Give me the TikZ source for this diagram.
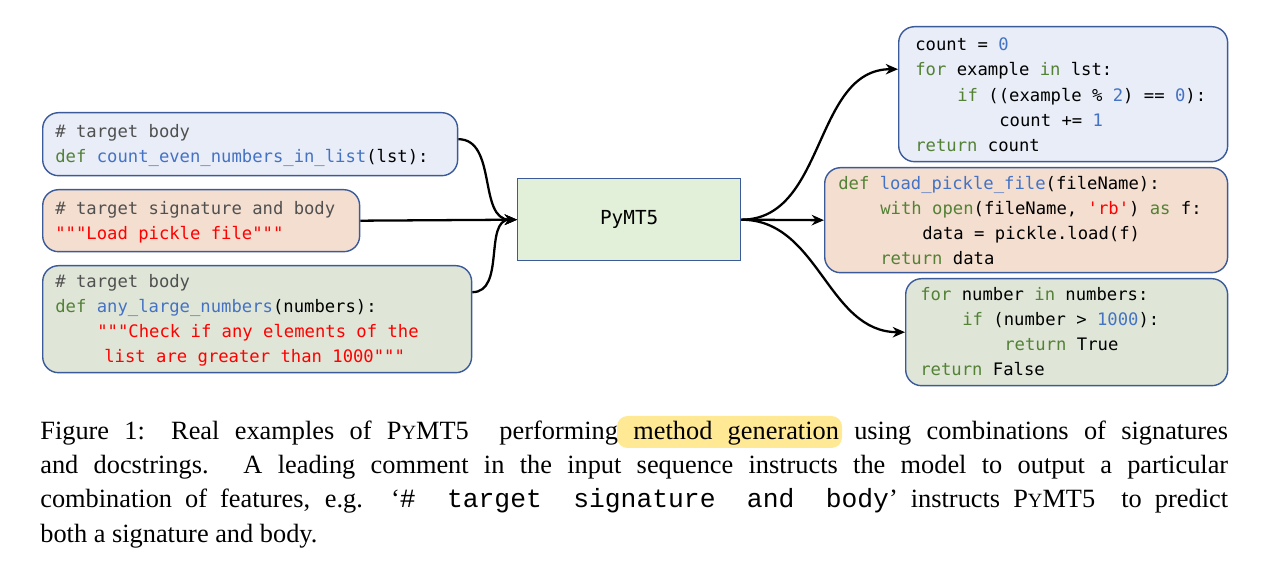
\documentclass[tikz,border=0pt]{standalone}
\usepackage{fontspec}
\usetikzlibrary{arrows.meta}
\setmainfont{Liberation Serif}
\newfontfamily\cmono{DejaVu Sans Mono}
\newfontfamily\ccour{Liberation Mono}
\definecolor{ckwc}{HTML}{538135}
\definecolor{cfnc}{HTML}{4472C4}
\definecolor{cstc}{HTML}{FF0000}
\definecolor{ccmc}{HTML}{505050}
\definecolor{bord}{HTML}{3B5A9A}
\definecolor{fblue}{HTML}{E8EDF7}
\definecolor{forange}{HTML}{F4DECF}
\definecolor{fgreen}{HTML}{DFE6D7}
\definecolor{fpym}{HTML}{E2EFD9}
\definecolor{hl}{HTML}{FFE994}
\newcommand\ckw[1]{\textcolor{ckwc}{#1}}
\newcommand\cfn[1]{\textcolor{cfnc}{#1}}
\newcommand\cst[1]{\textcolor{cstc}{#1}}
\newcommand\ccm[1]{\textcolor{ccmc}{#1}}
\newcommand\pym{P{\fontsize{11.5}{12}\selectfont Y}MT5}
\newlength\capw
\setlength\capw{23.76cm}
\begin{document}
\begin{tikzpicture}[x=0.02cm,y=-0.02cm,
  box/.style={draw=bord,line width=0.8pt,rounded corners=9pt},
  code/.style={anchor=base west,inner sep=0pt,font=\cmono\fontsize{9.8}{12}\selectfont},
  captxt/.style={anchor=base west,inner sep=0pt,font=\fontsize{15}{18}\selectfont},
  arr/.style={-{Stealth[length=7pt,width=6pt]},line width=1.3pt}]
\useasboundingbox (0,0) rectangle (1278,563);
% boxes
\node[box,fill=fblue,minimum width=8.3cm,minimum height=1.26cm,anchor=north west] (A) at (42,112) {};
\node[box,fill=forange,minimum width=6.34cm,minimum height=1.24cm,anchor=north west] (B) at (42,189) {};
\node[box,fill=fgreen,minimum width=8.58cm,minimum height=2.14cm,anchor=north west] (C) at (42,265) {};
\node[draw=bord,line width=0.8pt,fill=fpym,minimum width=4.46cm,minimum height=1.64cm,anchor=north west,font=\cmono\fontsize{11}{13}\selectfont] (P) at (517,178) {PyMT5};
\node[box,fill=fblue,minimum width=6.58cm,minimum height=2.7cm,anchor=north west] (D) at (898,26) {};
\node[box,fill=forange,minimum width=8.06cm,minimum height=2.1cm,anchor=north west] (E) at (824,167) {};
\node[box,fill=fgreen,minimum width=6.44cm,minimum height=2.14cm,anchor=north west] (F) at (905,278) {};
% code
\node[code] (a1) at (55,138) {\ccm{\# target body}};
\node[code] (a2) at (55,163) {\ckw{def} \cfn{count\_even\_numbers\_in\_list}(lst):};
\node[code] (b1) at (55,215) {\ccm{\# target signature and body}};
\node[code] (b2) at (55,240) {\cst{"""Load pickle file"""}};
\node[code] (c1) at (55,288) {\ccm{\# target body}};
\node[code] (c2) at (55,313) {\ckw{def} \cfn{any\_large\_numbers}(numbers):};
\node[code] (c3) at (97,338) {\cst{"""Check if any elements of the}};
\node[code] (c4) at (104,363) {\cst{list are greater than 1000"""}};
\node[code] (d1) at (915,51) {count = \cfn{0}};
\node[code] (d2) at (915,76) {\ckw{for} example \ckw{in} lst:};
\node[code] (d3) at (957,102) {\ckw{if} ((example \% \cfn{2}) == \cfn{0}):};
\node[code] (d4) at (999,127) {count += \cfn{1}};
\node[code] (d5) at (915,152) {\ckw{return} count};
\node[code] (e1) at (838,190) {\ckw{def} \cfn{load\_pickle\_file}(fileName):};
\node[code] (e2) at (880,215) {\ckw{with} \ckw{open}(fileName, \cst{'rb'}) \ckw{as} f:};
\node[code] (e3) at (922,240) {data = pickle.load(f)};
\node[code] (e4) at (880,265) {\ckw{return} data};
\node[code] (f1) at (920,301) {\ckw{for} number \ckw{in} numbers:};
\node[code] (f2) at (962,326) {\ckw{if} (number > \cfn{1000}):};
\node[code] (f3) at (1004,351) {\ckw{return} True};
\node[code] (f4) at (920,376) {\ckw{return} False};
% arrows
\coordinate (ae) at ([yshift=0.1cm]A.east);
\coordinate (ce) at ([yshift=0.54cm]C.east);
\coordinate (dw) at ([yshift=0.5cm]D.west);
\draw[arr] (ae) to[out=0,in=180] (P.west);
\draw[arr] (B.east) -- (P.west);
\draw[arr] (ce) to[out=0,in=180] (P.west);
\draw[arr] (P.east) to[out=0,in=180] (dw);
\draw[arr] (P.east) -- (E.west);
\draw[arr] (P.east) to[out=0,in=180] (F.west);
% caption
\fill[hl,rounded corners=6pt] (617,416) rectangle (842,448);
\node[captxt] (l1) at (40,440) {\makebox[\capw][s]{Figure 1: Real examples of \pym\ \ performing method generation using combinations of signatures}};
\node[captxt] (l2) at (40,474) {\makebox[\capw][s]{and docstrings. A leading comment in the input sequence instructs the model to output a particular}};
\node[captxt] (l3) at (40,508) {\makebox[\capw][s]{combination of features, e.g. `{\ccour\# target signature and body}' instructs \pym\ \ to predict}};
\node[captxt] (l4) at (40,542) {both a signature and body.};
\end{tikzpicture}
\end{document}
